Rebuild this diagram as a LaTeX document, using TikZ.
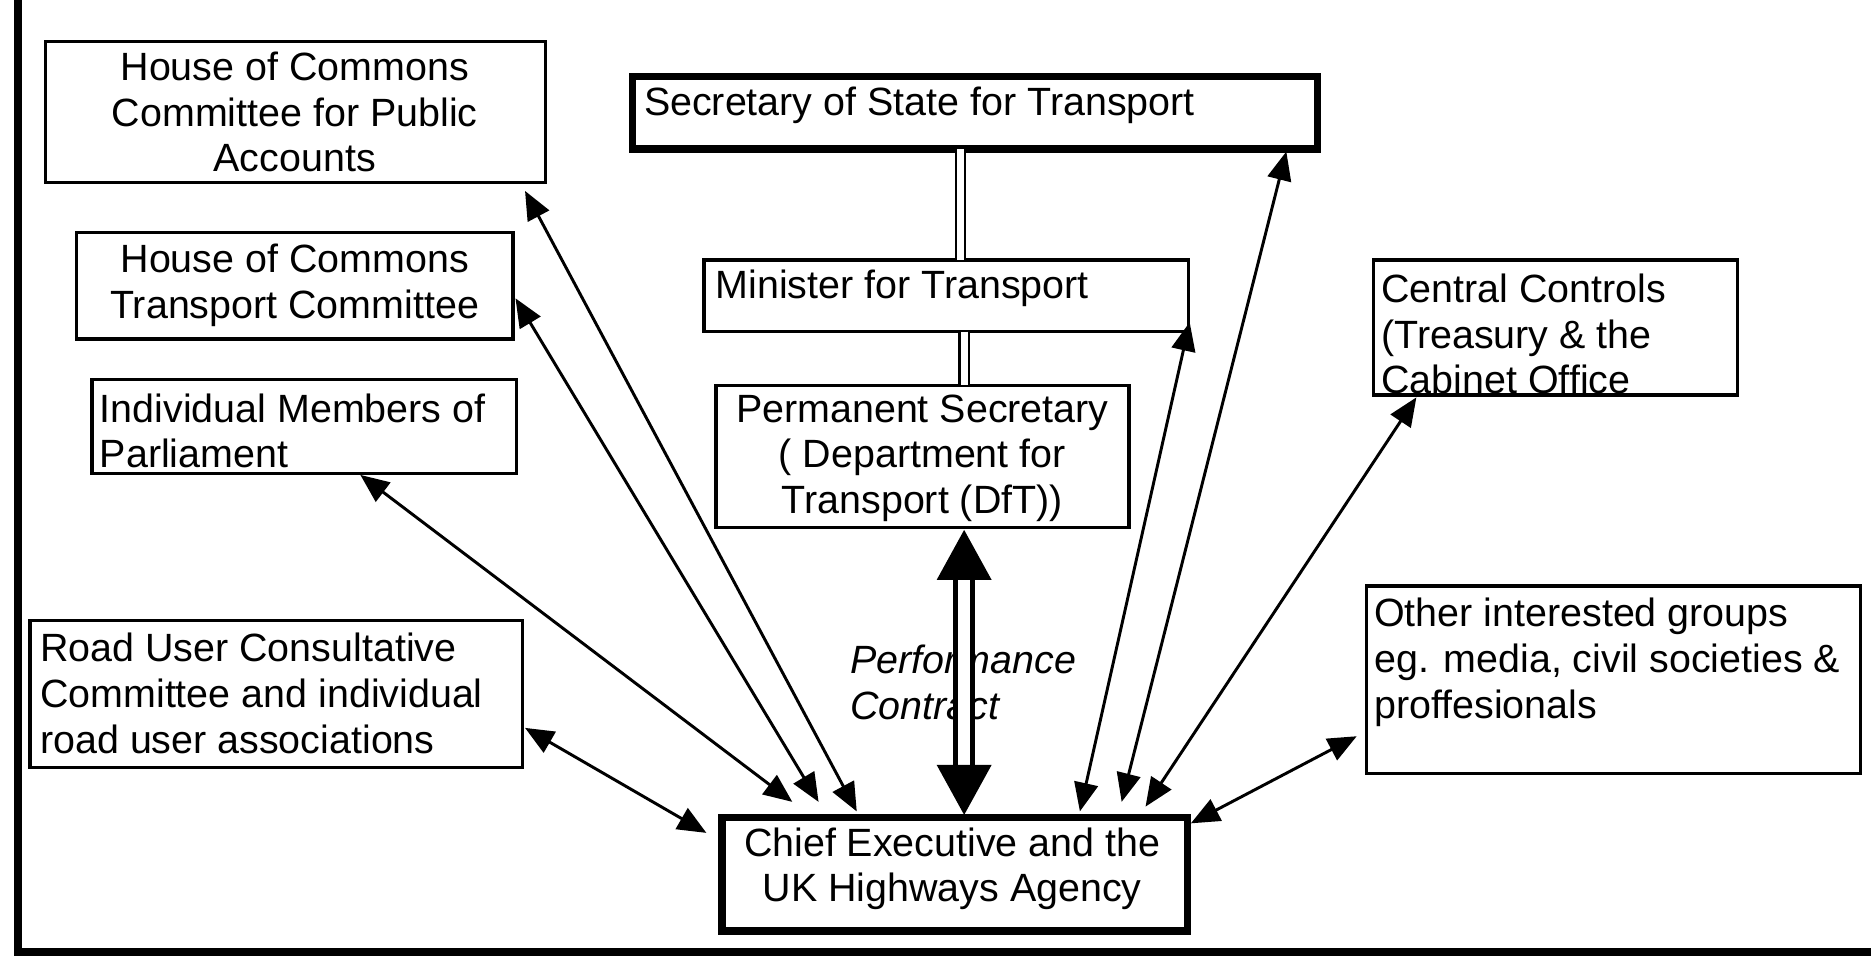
\documentclass[tikz,border=0pt]{standalone}
\usepackage{fontspec}
\setmainfont{Liberation Sans}
\usetikzlibrary{arrows.meta}
\begin{document}
\begin{tikzpicture}[x=1cm,y=-1cm,
  box/.style={draw,line width=0.8pt,inner sep=0pt},
  tbox/.style={draw,line width=1.8pt,inner sep=0pt},
  txt/.style={font=\fontsize{9.4}{10.9}\selectfont,inner sep=0pt},
  arr/.style={line width=0.7pt,{Triangle[length=0.24cm,width=0.2cm]}-{Triangle[length=0.24cm,width=0.2cm]}},
  dbl/.style={double,double distance=1.6pt,line width=0.6pt}]
\useasboundingbox (0,0) rectangle (15.68,8.08);
\draw[line width=2pt] (0.15,0) -- (0.15,7.98) -- (15.68,7.98);
% boxes
\draw[box] (0.38,0.35) rectangle (4.57,1.53);
\node[txt,align=center] (pa) at (2.47,0.94) {House of Commons\\Committee for Public\\Accounts};
\draw[box] (0.64,1.95) rectangle (4.30,2.84);
\node[txt,align=center] (tc) at (2.47,2.39) {House of Commons\\Transport Committee};
\draw[box] (0.77,3.18) rectangle (4.33,3.97);
\node[txt,align=left,anchor=west] (mp) at (0.83,3.61) {Individual Members of\\Parliament};
\draw[box] (0.25,5.20) rectangle (4.38,6.43);
\node[txt,align=left,anchor=west] (ru) at (0.33,5.81) {Road User Consultative\\Committee and individual\\road user associations};
\draw[tbox] (5.30,0.64) rectangle (11.04,1.25);
\node[txt,anchor=west] (ss) at (5.39,0.88) {Secretary of State for Transport};
\draw[box] (5.90,2.18) rectangle (9.96,2.78);
\node[txt,anchor=west] (mt) at (5.99,2.42) {Minister for Transport};
\draw[box] (6.00,3.23) rectangle (9.46,4.42);
\node[txt,align=center] (ps) at (7.73,3.84) {Permanent Secretary\\( Department for\\Transport (DfT))};
\draw[box] (11.51,2.18) rectangle (14.56,3.31);
\node[txt,align=left,anchor=west] (cc) at (11.57,2.80) {Central Controls\\(Treasury \& the\\Cabinet Office};
\draw[box] (11.45,4.91) rectangle (15.59,6.48);
\node[txt,align=left,anchor=west] (og) at (11.51,5.55) {Other interested groups\\eg. media, civil societies \&\\proffesionals};
\draw[tbox] (6.05,6.85) rectangle (9.95,7.80);
\node[txt,align=center] (ce) at (7.98,7.28) {Chief Executive and the\\UK Highways Agency};
\node[txt,align=left,anchor=west,font=\fontsize{9.4}{10.9}\selectfont\itshape] (pc) at (7.12,5.72) {Performance\\Contract};
% endpoints
\coordinate (a1) at (4.40,1.60); \coordinate (b1) at (7.18,6.80);
\coordinate (a2) at (4.32,2.50); \coordinate (b2) at (6.86,6.72);
\coordinate (a3) at (3.02,3.98); \coordinate (b3) at (6.64,6.72);
\coordinate (a4) at (4.40,6.10); \coordinate (b4) at (5.92,6.98);
\coordinate (a5) at (10.78,1.27); \coordinate (b5) at (9.40,6.72);
\coordinate (a6) at (9.97,2.70); \coordinate (b6) at (9.05,6.80);
\coordinate (a7) at (11.87,3.33); \coordinate (b7) at (9.60,6.76);
\coordinate (a8) at (11.37,6.17); \coordinate (b8) at (9.98,6.90);
\coordinate (s1) at (8.05,1.25); \coordinate (s2) at (8.05,2.18);
\coordinate (s3) at (8.08,2.78); \coordinate (s4) at (8.08,3.23);
\coordinate (p1) at (8.08,4.44); \coordinate (p2) at (8.08,6.83);
\draw[arr] (a1) -- (b1);
\draw[arr] (a2) -- (b2);
\draw[arr] (a3) -- (b3);
\draw[arr] (a4) -- (b4);
\draw[arr] (a5) -- (b5);
\draw[arr] (a6) -- (b6);
\draw[arr] (a7) -- (b7);
\draw[arr] (a8) -- (b8);
\draw[dbl] (s1) -- (s2);
\draw[dbl] (s3) -- (s4);
\draw[double,double distance=3pt,line width=1.2pt,{Triangle[length=0.42cm,width=0.45cm]}-{Triangle[length=0.42cm,width=0.45cm]}] (p1) -- (p2);
\end{tikzpicture}
\end{document}
